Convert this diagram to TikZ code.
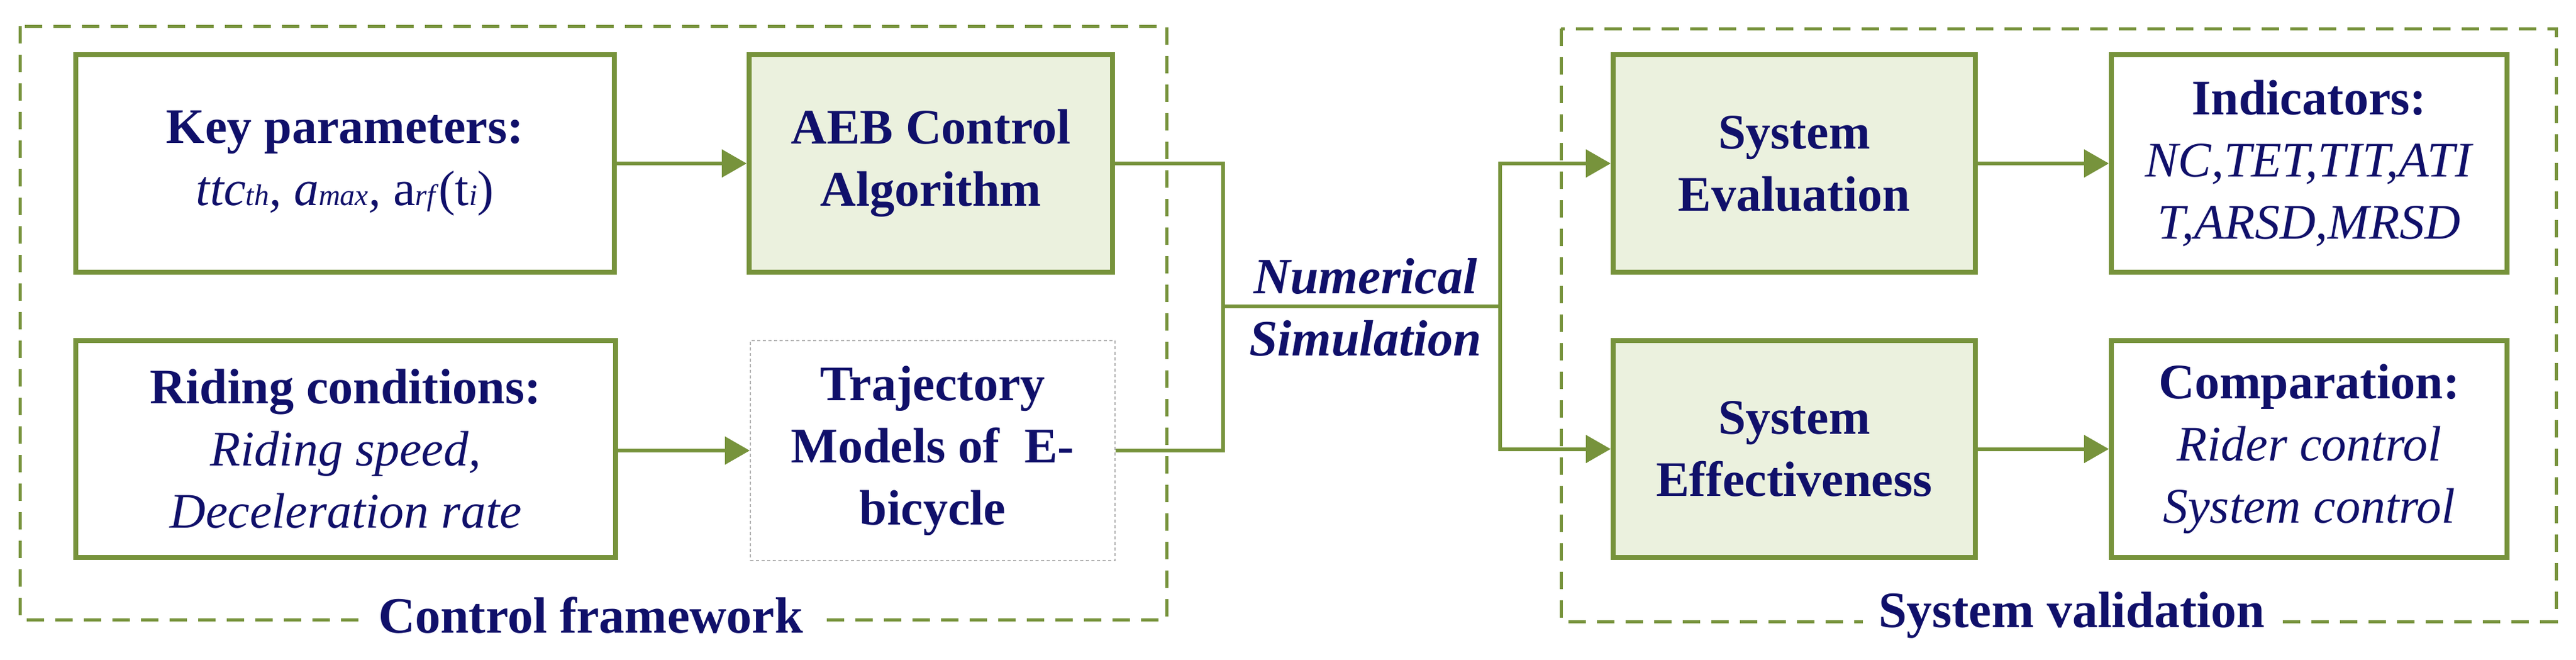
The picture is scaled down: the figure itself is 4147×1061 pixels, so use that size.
\documentclass[tikz,border=0pt]{standalone}
\usepackage{fontspec}
\setmainfont{Liberation Serif}
\usetikzlibrary{arrows.meta}
\definecolor{grn}{HTML}{77933C}
\definecolor{lgrn}{HTML}{EBF1DE}
\definecolor{navy}{HTML}{10106A}
\begin{document}
\begin{tikzpicture}[x=1pt,y=-1pt,
  box/.style={draw=grn,line width=8pt,align=center,text=navy,font=\fontsize{80}{100}\selectfont},
  fbox/.style={box,fill=lgrn},
  grp/.style={draw=grn,line width=5pt,dash pattern=on 28pt off 18pt},
  conn/.style={draw=grn,line width=6pt},
  arr/.style={conn,-{Triangle[length=40pt,width=44pt]}},
  lab/.style={text=navy,font=\bfseries\fontsize{82}{100}\selectfont,fill=white,inner xsep=25pt}]
\useasboundingbox (0,0) rectangle (4147,1061);
\draw[grp] (32,42) rectangle (1878,997);
\draw[grp] (2513,46) rectangle (4115,1000);
\node[lab] (cf) at (951,990) {Control framework};
\node[lab] (sv) at (3335,990) {System validation};
\node[box,minimum width=867pt,minimum height=350pt] (kp) at (555.5,263)
  {\textbf{Key parameters:}\\ \textit{ttc}{\fontsize{48}{50}\selectfont\textit{th}}\textit{,} \textit{a}{\fontsize{48}{50}\selectfont\textit{max}}\textit{,} a{\fontsize{48}{50}\selectfont\textit{rf}}(t{\fontsize{48}{50}\selectfont\textit{i}})};
\node[fbox,minimum width=585pt,minimum height=350pt] (aeb) at (1498.5,263)
  {\textbf{AEB Control}\\\textbf{Algorithm}};
\node[box,minimum width=869pt,minimum height=349pt] (rc) at (556.5,722.5)
  {\textbf{Riding conditions:}\\\textit{Riding speed,}\\\textit{Deceleration rate}};
\node[box,draw=gray!60,line width=2pt,dash pattern=on 5pt off 4pt,minimum width=587pt,minimum height=354pt] (tm) at (1501.5,725)
  {\textbf{Trajectory}\\\textbf{Models of\ \ E-}\\\textbf{bicycle}};
\node[fbox,minimum width=583pt,minimum height=350pt] (se) at (2888.5,263)
  {\textbf{System}\\\textbf{Evaluation}};
\node[box,minimum width=637pt,minimum height=350pt] (ind) at (3717.5,263)
  {\textbf{Indicators:}\\\textit{NC,TET,TIT,ATI}\\\textit{T,ARSD,MRSD}};
\node[fbox,minimum width=583pt,minimum height=349pt] (sf) at (2888.5,722.5)
  {\textbf{System}\\\textbf{Effectiveness}};
\node[box,minimum width=637pt,minimum height=349pt] (cmp) at (3717.5,722.5)
  {\textbf{Comparation:}\\\textit{Rider control}\\\textit{System control}};
\node[text=navy,align=center,font=\bfseries\itshape\fontsize{82}{100}\selectfont] (ns) at (2198,495) {Numerical\\Simulation};
\coordinate (j) at (1969,493);
\coordinate (s) at (2415,493);
\draw[arr] (kp.east) -- (kp.east -| aeb.west);
\draw[arr] (rc.east |- tm.west) -- (tm.west);
\draw[conn] (aeb.east) -| (j) |- (tm.east);
\draw[conn] (j) -- (s);
\draw[arr] (s) |- (se.west);
\draw[arr] (s) |- (sf.west);
\draw[arr] (se.east) -- (ind.west);
\draw[arr] (sf.east) -- (cmp.west);
\end{tikzpicture}
\end{document}
